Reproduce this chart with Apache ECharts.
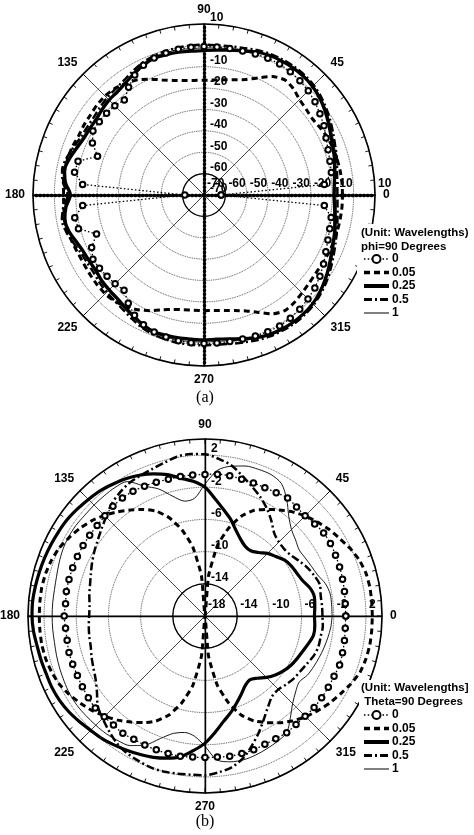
<!DOCTYPE html>
<html><head><meta charset="utf-8">
<script src="https://cdn.jsdelivr.net/npm/echarts@6/dist/echarts.min.js"></script>
<style>html,body{margin:0;padding:0;background:#fff}#c{width:474px;height:835px}</style>
</head><body><div id="c"></div>
<script>
// ---------- data ----------
const angles = [0,5,10,15,20,25,30,35,40,45,50,55,60,65,70,75,80,85,90,95,100,105,110,115,120,125,130,135,140,145,150,155,160,165,170,175,180,185,190,195,200,205,210,215,220,225,230,235,240,245,250,255,260,265,270,275,280,285,290,295,300,305,310,315,320,325,330,335,340,345,350,355,360];
const seriesNames = ['0','0.05','0.25','0.5','1'];
const angleTicks = [0,45,90,135,180,225,270,315];

// (a) phi = 90 degrees, dB
const a0 = [-62,-13.5,-9.5,-9.0,-8.2,-7.0,-5.2,-3.8,-2.2,-1.0,-0.2,0.4,0.8,0.6,0.2,-0.2,-0.4,-0.5,-0.5,-0.6,-0.8,-1.2,-1.8,-3.0,-5.2,-8.5,-12.0,-11.0,-10.5,-10.2,-10.0,-12.4,-17.0,-9.0,-8.5,-13.0,-61,-13.0,-8.6,-9.2,-16.5,-12.0,-10.0,-10.3,-10.8,-11.2,-11.8,-8.2,-5.0,-3.0,-1.8,-1.2,-0.8,-0.6,-0.5,-0.5,-0.4,-0.2,0.2,0.6,0.8,0.4,-0.3,-1.2,-2.3,-3.8,-5.4,-7.1,-8.3,-9.1,-9.6,-13.5,-62];
const a005 = [-5.2,-5.2,-5.3,-5.5,-5.8,-6.3,-7.2,-8.0,-7.6,-6.8,-5.0,-4.2,-6.0,-9.5,-12.5,-14.2,-15.3,-16.0,-16.3,-16.2,-15.6,-14.5,-12.7,-10.2,-7.8,-6.2,-5.0,-4.5,-4.6,-5.0,-5.0,-5.1,-4.4,-4.0,-3.8,-4.0,-4.3,-4.1,-3.9,-4.1,-4.5,-5.1,-5.2,-5.0,-4.7,-4.6,-5.1,-6.3,-8.0,-10.3,-12.8,-14.6,-15.5,-15.9,-15.9,-15.8,-15.1,-14.0,-12.3,-9.4,-5.8,-4.0,-4.3,-5.2,-5.8,-6.2,-6.0,-5.7,-5.5,-5.4,-5.3,-5.2,-5.2];
const a025 = [-9.2,-8.8,-8.0,-6.8,-5.8,-4.5,-2.8,-1.0,0.6,1.8,2.4,2.6,2.5,2.1,1.2,-0.2,-1.2,-2.0,-2.4,-2.4,-2.2,-2.0,-1.9,-3.0,-4.5,-6.0,-7.0,-7.2,-7.8,-8.4,-8.2,-7.8,-6.5,-4.8,-3.8,-5.0,-7.5,-5.2,-3.9,-4.6,-6.4,-7.7,-8.1,-8.3,-7.6,-7.3,-6.9,-5.8,-4.4,-2.9,-1.9,-2.0,-2.1,-2.3,-2.2,-2.3,-1.7,-0.4,1.0,2.0,2.5,2.7,2.5,1.9,0.7,-0.9,-2.6,-4.3,-5.7,-6.7,-7.9,-8.7,-9.2];
const a05 = [-7.6,-7.4,-6.8,-5.6,-4.6,-3.2,-1.6,0.0,1.5,2.6,3.2,3.4,3.3,2.9,2.2,1.2,0.6,0.3,0.3,0.2,0.0,-0.3,-0.8,-1.8,-3.2,-4.6,-5.4,-5.8,-6.4,-6.9,-6.8,-6.3,-5.0,-3.4,-2.6,-3.8,-6.2,-3.9,-2.5,-3.3,-4.9,-6.3,-6.8,-6.9,-6.2,-5.7,-5.2,-4.3,-2.9,-1.5,-0.6,-0.1,0.2,0.3,0.3,0.2,0.7,1.4,2.3,3.0,3.3,3.5,3.2,2.6,1.5,0.1,-1.5,-3.1,-4.5,-5.6,-6.6,-7.3,-7.6];
const a1 = [-8.4,-8.2,-7.3,-6.0,-5.0,-3.7,-2.0,-0.3,1.2,2.3,2.9,3.0,2.7,2.2,1.5,0.4,-0.5,-1.0,-1.2,-1.3,-1.0,-1.1,-1.2,-2.3,-4.0,-5.6,-6.4,-6.8,-7.2,-7.9,-7.6,-7.0,-5.8,-4.1,-3.1,-4.3,-6.8,-4.4,-3.2,-4.0,-5.7,-7.1,-7.6,-7.8,-7.0,-6.6,-6.2,-5.0,-3.6,-2.0,-1.1,-1.2,-1.0,-1.2,-1.2,-1.3,-0.8,0.3,1.6,2.6,3.0,3.1,2.9,2.3,1.2,-0.3,-1.9,-3.6,-5.0,-6.0,-7.1,-7.9,-8.4];
const aRadiusTicks = [-70,-60,-50,-40,-30,-20,-10,0,10];

// (b) theta = 90 degrees, dB
const b0 = [-0.5,-0.5,-0.4,-0.3,-0.2,-0.1,0.0,0.0,-0.2,-0.4,-0.3,-0.1,-0.3,-0.4,-0.4,-0.4,-0.3,-0.3,-0.4,-0.4,-0.4,-0.4,-0.3,-0.2,-0.1,-0.1,-0.2,-0.4,-0.5,-0.5,-0.5,-0.5,-0.5,-0.5,-0.5,-0.6,-0.5,-0.6,-0.6,-0.5,-0.5,-0.5,-0.4,-0.3,-0.2,-0.3,-0.3,-0.2,-0.3,-0.3,-0.3,-0.3,-0.3,-0.4,-0.4,-0.4,-0.3,-0.3,-0.3,-0.4,-0.4,-0.3,-0.4,-0.4,-0.3,-0.3,-0.3,-0.3,-0.2,-0.3,-0.4,-0.5,-0.5];
const b005 = [2.8,2.8,2.8,2.7,2.4,1.9,1.3,0.8,0.2,-0.4,-1.1,-1.9,-2.7,-3.5,-4.8,-6.7,-9.1,-13.0,-18,-13.0,-9.3,-6.9,-5.0,-3.6,-2.7,-1.9,-1.1,-0.3,0.4,1.0,1.5,2.0,2.3,2.5,2.6,2.6,2.6,2.6,2.6,2.5,2.3,2.0,1.5,0.9,0.3,-0.4,-1.1,-1.9,-2.7,-3.6,-4.9,-6.8,-9.2,-13.0,-18,-13.0,-9.3,-6.9,-4.9,-3.6,-2.7,-1.8,-1.0,-0.3,0.3,0.9,1.4,2.0,2.5,2.7,2.8,2.8,2.8];
const b025 = [-4.4,-4.3,-4.2,-4.5,-5.1,-5.4,-5.6,-5.9,-6.5,-7.0,-7.7,-8.1,-8.0,-7.5,-6.7,-5.6,-4.6,-3.4,-2.0,-1.2,-0.6,0.2,0.8,1.3,1.7,2.0,2.3,2.5,2.7,2.9,3.0,3.1,3.2,3.3,3.4,3.5,3.5,3.4,3.2,3.1,3.0,3.0,2.9,2.7,2.4,2.1,1.9,1.6,1.3,1.0,0.7,0.3,-0.2,-1.2,-2.2,-3.5,-4.7,-5.6,-6.5,-7.3,-8.0,-8.3,-7.9,-7.2,-6.6,-6.1,-5.7,-5.4,-5.1,-4.7,-4.3,-4.3,-4.4];
const b05 = [-3.4,-3.4,-3.4,-3.2,-3.5,-3.9,-4.4,-4.9,-5.1,-5.0,-4.6,-3.6,-2.6,-1.7,-0.9,0.0,1.0,1.6,2.1,2.2,2.1,1.7,1.4,1.2,1.0,0.6,0.1,-0.6,-1.2,-1.7,-2.1,-2.5,-2.9,-3.2,-3.4,-3.6,-3.6,-3.5,-3.4,-3.3,-3.0,-2.7,-2.3,-1.6,-0.6,0.0,0.6,1.2,1.6,1.8,2.0,2.0,1.9,1.8,1.8,1.5,1.1,0.3,-0.9,-2.1,-3.3,-4.3,-5.0,-5.1,-4.8,-4.5,-4.3,-4.0,-3.6,-3.4,-3.4,-3.3,-3.4];
const b1 = [-2.2,-2.2,-2.2,-2.5,-3.1,-3.4,-3.6,-3.7,-3.3,-2.8,-1.8,-0.3,1.0,1.4,1.4,1.3,0.9,0.2,-1.6,-3.3,-3.5,-2.6,-1.2,-0.2,1.3,1.5,1.5,1.5,1.5,1.6,1.6,1.5,1.3,1.1,1.0,1.0,1.0,1.0,1.0,1.1,1.2,1.3,1.4,1.4,1.3,1.2,1.1,0.9,0.6,-0.3,-1.8,-2.9,-3.3,-3.0,-1.8,0.0,0.4,0.5,0.4,0.2,0.0,-0.3,-1.5,-2.6,-3.3,-3.7,-3.3,-3.1,-2.9,-2.7,-2.5,-2.3,-2.2];
const bRadiusTicks = [-18,-14,-10,-6,-2,2];

// ---------- layout / styles ----------
const FONT = 'Liberation Sans';
const lab = {color:'#000', fontFamily:FONT, fontWeight:'bold', fontSize:12};
const polar = [], angleAxis = [], radiusAxis = [];
function addPolar(center, radius, ang, rad){
  const i = polar.length;
  polar.push({center:center, radius:radius});
  angleAxis.push(Object.assign({polarIndex:i, type:'value', min:0, max:360, clockwise:false, startAngle:0,
    axisLine:{show:false}, axisTick:{show:false}, axisLabel:{show:false}, splitLine:{show:false}}, ang));
  radiusAxis.push(Object.assign({polarIndex:i, type:'value',
    axisLine:{show:false}, axisTick:{show:false}, axisLabel:{show:false}, splitLine:{show:false}}, rad));
  return i;
}

function buildChart(cfg){
  const C = cfg.center, R = cfg.radius;
  const main = addPolar(C, R, {
    interval:45,
    axisLine:{show:true, lineStyle:{color:'#000', width:1.6}},
    axisTick:{show:true, inside:true, length:5, lineStyle:{color:'#000', width:1}},
    minorTick:{show:true, splitNumber:9, length:4, lineStyle:{color:'#000', width:0.9}},
    axisLabel:Object.assign({show:true, margin:8, formatter:v => angleTicks.indexOf(v) >= 0 ? String(v) : ''}, lab),
    splitLine:{show:true, lineStyle:{color:'#111', width:cfg.spokeWidth}}
  }, {
    min:cfg.rMin, max:cfg.rMax, interval:cfg.rInt,
    axisLine:{show:true, lineStyle:cfg.axisLine},
    axisLabel:Object.assign({show:true, margin:5, align:'left', verticalAlign:'bottom', padding:[0,0,0,3],
      formatter:v => cfg.hLabels.indexOf(v) >= 0 ? String(v) : ''}, lab),
    splitLine:{show:true, lineStyle:{color:'#333', width:0.9, type:'dotted'}}
  });
  // vertical axis with labels
  addPolar(C, R, {startAngle:90}, {
    min:cfg.rMin, max:cfg.rMax, interval:cfg.rInt,
    axisLine:{show:true, lineStyle:cfg.axisLine},
    axisLabel:Object.assign({show:true, margin:-6, align:'left', verticalAlign:'bottom',
      formatter:v => cfg.vLabels.indexOf(v) >= 0 ? String(v) : ''}, lab)
  });
  addPolar(C, R, {startAngle:180}, {min:cfg.rMin, max:cfg.rMax, axisLine:{show:true, lineStyle:cfg.axisLine}});
  addPolar(C, R, {startAngle:270}, {min:cfg.rMin, max:cfg.rMax, axisLine:{show:true, lineStyle:cfg.axisLine}});
  // innermost solid ring
  addPolar(C, R * cfg.rInt / (cfg.rMax - cfg.rMin), {axisLine:{show:true, lineStyle:{color:'#000', width:1.3}}}, {min:0, max:1});
  return main;
}

const pa = buildChart({center:[204,195], radius:171, rMin:-70, rMax:10, rInt:10, spokeWidth:0.8,
  axisLine:{color:'#000', width:3.4, type:[0.8,3]},
  hLabels:[-70,-60,-50,-40,-30,-20,-10,10], vLabels:[-70,-60,-50,-40,-30,-20,-10,10]});
const pb = buildChart({center:[205,616], radius:177, rMin:-18, rMax:4, rInt:4, spokeWidth:0.8,
  axisLine:{color:'#000', width:1.4},
  hLabels:[-18,-14,-10,-6,-2,2], vLabels:[-14,-10,-6,-2,2]});
// solid centre line under the ticked axes of (a)
[0,90,180,270].forEach(s => addPolar([204,195], 171, {startAngle:s}, {min:0, max:1, axisLine:{show:true, lineStyle:{color:'#000', width:1.3}}}));

const styles = {
  '0':   {lineStyle:{color:'#000', width:1.3, type:[1.5,2.2]}, symbol:'emptyCircle', symbolSize:5.5, itemStyle:{color:'#000', borderColor:'#000', borderWidth:1}},
  '0.05':{lineStyle:{color:'#000', width:3, type:[6,4]}, symbol:'none', itemStyle:{color:'#000'}},
  '0.25':{lineStyle:{color:'#000', width:3.2}, symbol:'none', itemStyle:{color:'#000'}},
  '0.5': {lineStyle:{color:'#000', width:2.5, type:[8,3,2,3]}, symbol:'none', itemStyle:{color:'#000'}},
  '1':   {lineStyle:{color:'#000', width:0.9}, symbol:'none', itemStyle:{color:'#000'}}
};
function mk(name, pIdx, vals, smooth){
  return Object.assign({type:'line', name:name, coordinateSystem:'polar', polarIndex:pIdx,
    smooth:smooth, animation:false, z:3,
    data: angles.map((a,i) => [vals[i], a])}, styles[name]);
}
const series = [
  mk('0.05', pa, a005, 0.2), mk('0.5', pa, a05, 0.3), mk('1', pa, a1, 0.3), mk('0.25', pa, a025, 0.3), mk('0', pa, a0, false),
  mk('0.05', pb, b005, 0.15), mk('0.5', pb, b05, 0.3), mk('1', pb, b1, 0.3), mk('0.25', pb, b025, 0.3), mk('0', pb, b0, 0.3)
];

const legendLine = {'0':{width:1.3, type:[1.5,2.2]}, '0.05':{width:3.5, type:[6,4]}, '0.25':{width:4}, '0.5':{width:2.8, type:[8,3,2,3]}, '1':{width:1}};
const legendData = seriesNames.map(n => Object.assign({name:n, lineStyle:Object.assign({color:'#000'}, legendLine[n])},
  n === '0' ? {} : {itemStyle:{opacity:0}}));
const legendBase = {orient:'vertical', itemWidth:25, itemHeight:10, itemGap:1.5, padding:0,
  selectedMode:false, z:70, data:legendData, textStyle:Object.assign({padding:[0,0,0,-2]}, lab)};

const txt = (x, y, s) => ({type:'text', x:x, y:y, z:70,
  style:{text:s, font:'bold 11.5px ' + FONT, fill:'#000', align:'left', verticalAlign:'middle'}});

const option = {
  backgroundColor:'#fff',
  animation:false,
  polar:polar, angleAxis:angleAxis, radiusAxis:radiusAxis,
  series:series,
  legend:[
    Object.assign({left:362, top:253}, legendBase),
    Object.assign({left:362, top:709}, legendBase)
  ],
  graphic:[
    {type:'rect', shape:{x:357, y:224, width:117, height:97}, style:{fill:'#fff'}, z:60},
    {type:'rect', shape:{x:359, y:680, width:115, height:99}, style:{fill:'#fff'}, z:60},
    txt(361, 233, '(Unit: Wavelengths)'),
    txt(361, 247, 'phi=90 Degrees'),
    txt(361, 688, '(Unit: Wavelengths]'),
    txt(361, 702, ' Theta=90 Degrees'),
    {type:'text', x:205, y:398, z:70, style:{text:'(a)', font:'16px Liberation Serif', fill:'#000', align:'center', verticalAlign:'middle'}},
    {type:'text', x:205, y:822, z:70, style:{text:'(b)', font:'16px Liberation Serif', fill:'#000', align:'center', verticalAlign:'middle'}}
  ]
};
const chart = echarts.init(document.getElementById('c'), null, {renderer:'canvas'});
chart.setOption(option);
</script></body></html>
